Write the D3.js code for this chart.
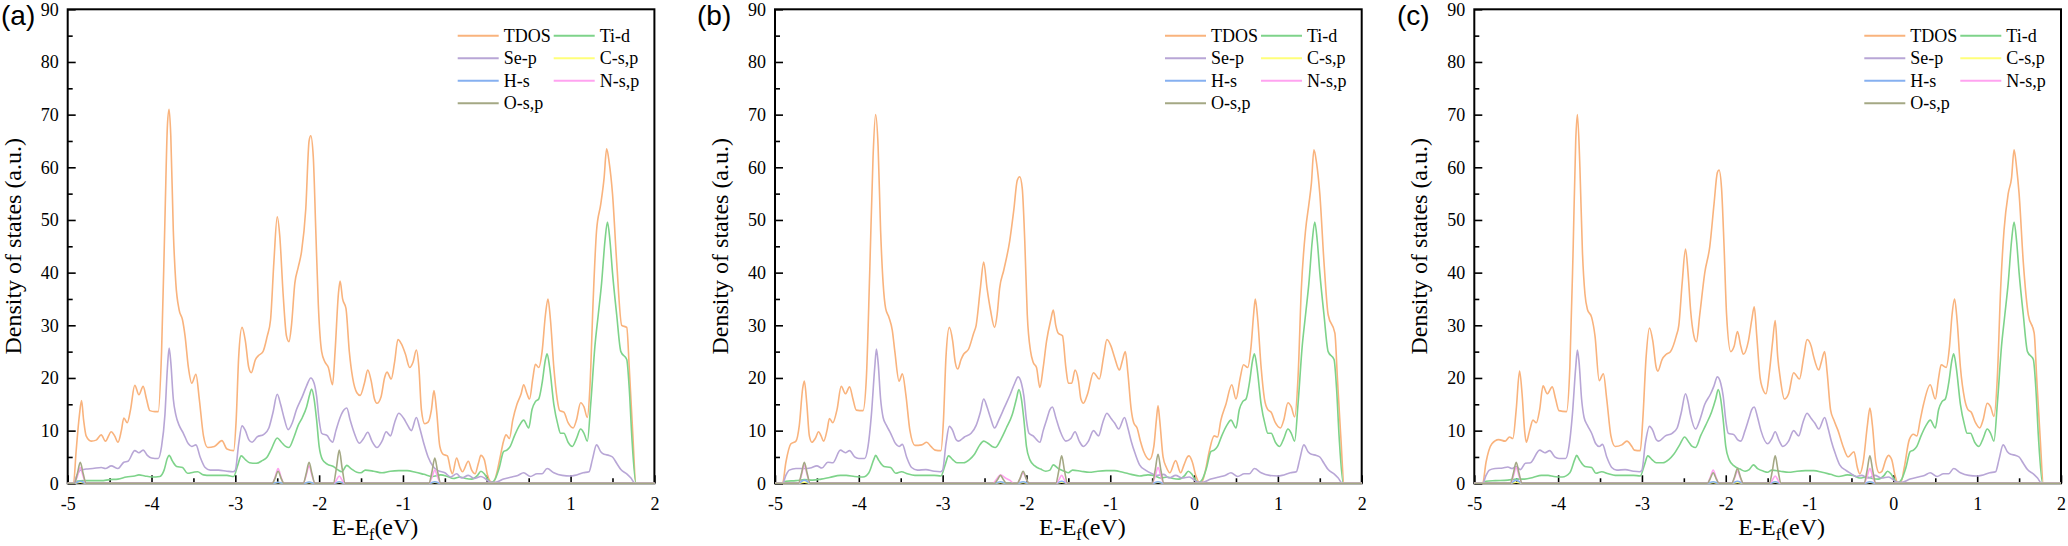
<!DOCTYPE html>
<html><head><meta charset="utf-8">
<script src="https://cdn.jsdelivr.net/npm/d3@7/dist/d3.min.js"></script>
<style>html,body{margin:0;padding:0;background:#fff;} svg{display:block;}</style>
</head><body><svg id="c" width="2068" height="546"></svg>
<script>
const panelLabels = ["(a)", "(b)", "(c)"];
const seriesNames = ["TDOS", "Ti-d", "Se-p", "C-s,p", "H-s", "N-s,p", "O-s,p"];
const seriesColors = ["#F9B37D", "#7ED38A", "#B8A6D6", "#FFFF7A", "#86B0F0", "#FFA3F0", "#A4A884"];
const xTicks = [-5, -4, -3, -2, -1, 0, 1, 2];
const xMinorTicks = [-4.5, -3.5, -2.5, -1.5, -0.5, 0.5, 1.5];
const yTicks = [0, 10, 20, 30, 40, 50, 60, 70, 80, 90];
const yMinorTicks = [5, 15, 25, 35, 45, 55, 65, 75, 85];
const xTitleMain = "E-E", xTitleSub = "f", xTitleEnd = "(eV)";
const yTitle = "Density of states (a.u.)";

// ---------- panel (a) ----------
const tdosA = [[-5,0],[-4.93,0],[-4.9,6],[-4.86,13],[-4.835,15.7],[-4.81,12],[-4.78,9],[-4.72,8],[-4.66,8.2],[-4.6,9.2],[-4.55,8],[-4.48,9.8],[-4.44,9],[-4.4,7.8],[-4.36,10],[-4.33,12.4],[-4.29,11.5],[-4.25,14],[-4.2,18.6],[-4.15,16.8],[-4.1,18.4],[-4.06,16],[-4.02,13.8],[-3.96,13.6],[-3.92,13.6],[-3.88,25],[-3.84,50],[-3.81,68],[-3.79,71],[-3.77,66],[-3.74,48],[-3.71,38],[-3.67,32.9],[-3.63,31],[-3.6,28],[-3.56,22],[-3.52,19],[-3.47,20.7],[-3.43,16],[-3.38,9],[-3.33,6.8],[-3.25,7],[-3.16,8.1],[-3.1,6.5],[-3.02,6.2],[-2.99,12],[-2.96,24],[-2.92,29.6],[-2.88,27],[-2.84,22],[-2.81,21],[-2.76,23.5],[-2.72,24.3],[-2.67,25],[-2.62,27.9],[-2.58,31],[-2.54,42],[-2.5,50.6],[-2.47,47],[-2.43,36],[-2.39,28],[-2.36,26.9],[-2.33,30],[-2.29,38],[-2.25,41],[-2.21,44],[-2.16,52],[-2.12,65],[-2.1,66],[-2.07,62],[-2.04,48],[-2.01,34],[-1.97,25],[-1.93,23],[-1.89,22],[-1.84,18.7],[-1.81,25],[-1.77,36],[-1.75,38.4],[-1.72,35],[-1.68,33.2],[-1.64,25],[-1.6,20],[-1.55,17.2],[-1.51,16.7],[-1.46,19],[-1.42,21.5],[-1.38,19.5],[-1.34,16],[-1.31,15.2],[-1.26,16.5],[-1.22,20],[-1.19,21.1],[-1.14,19.8],[-1.1,23],[-1.06,27.3],[-1.02,26.5],[-0.97,24.5],[-0.92,22],[-0.88,23],[-0.84,25.3],[-0.81,22],[-0.78,14],[-0.74,11.3],[-0.7,11.6],[-0.66,14],[-0.63,17.6],[-0.6,14],[-0.56,7],[-0.52,5.5],[-0.47,5.2],[-0.43,2.5],[-0.41,1.8],[-0.36,4.8],[-0.32,3],[-0.29,2.2],[-0.22,4.2],[-0.18,2.5],[-0.14,1.8],[-0.1,3.8],[-0.07,5.3],[-0.03,4.5],[0.01,1.5],[0.05,0.3],[0.08,0.2],[0.12,2],[0.16,5],[0.2,8],[0.23,9.2],[0.27,8.5],[0.31,12],[0.36,15],[0.41,17],[0.44,18.7],[0.48,17],[0.51,16],[0.55,20],[0.58,22.6],[0.62,22],[0.66,25],[0.7,32],[0.73,35],[0.76,31],[0.8,22],[0.84,16],[0.87,13.8],[0.92,13.5],[0.97,11.5],[1.03,10.5],[1.07,12],[1.12,15.3],[1.16,14.5],[1.2,12.5],[1.23,18],[1.27,35],[1.31,48],[1.36,53],[1.4,58],[1.43,63.5],[1.46,61],[1.5,55],[1.55,42],[1.61,30],[1.67,29.6],[1.7,22],[1.74,10],[1.78,0],[2,0]];
const tidCB = [[0.01,0.8],[0.05,0.1],[0.1,0.8],[0.15,3],[0.2,6],[0.24,6.3],[0.28,7],[0.33,9],[0.39,11],[0.44,12],[0.5,10.5],[0.54,14],[0.58,15.5],[0.62,16],[0.66,19],[0.7,23.5],[0.72,24.6],[0.75,22],[0.8,15],[0.85,11],[0.88,9.5],[0.92,9.5],[0.97,7.8],[1.02,7],[1.07,8.5],[1.12,10.3],[1.16,9.5],[1.2,8],[1.24,15],[1.29,26],[1.33,32],[1.37,38],[1.41,46],[1.44,49.6],[1.47,46],[1.5,40],[1.55,32],[1.6,25],[1.67,23.5],[1.7,18],[1.73,9],[1.78,0],[2,0]];
const sepCB = [[0.03,0.3],[0.1,0.2],[0.2,0.8],[0.3,1.2],[0.37,1.5],[0.44,2],[0.52,1.3],[0.6,1.8],[0.66,1.8],[0.72,2.8],[0.8,2],[0.9,1.5],[1.0,1.4],[1.05,1.5],[1.15,2],[1.22,2.2],[1.26,4.5],[1.31,7.3],[1.36,6],[1.4,5.5],[1.46,5.3],[1.5,5],[1.55,3.8],[1.6,2.6],[1.67,1.8],[1.72,1],[1.77,0],[2,0]];
const tidA = [[-5,0],[-4.93,0],[-4.9,0.4],[-4.8,0.5],[-4.6,0.5],[-4.5,0.7],[-4.4,0.8],[-4.3,1.2],[-4.2,1.4],[-4.15,1.6],[-4.08,1.4],[-4.0,1.2],[-3.9,1.3],[-3.85,2.5],[-3.81,4.8],[-3.79,5.3],[-3.75,4.2],[-3.7,3.2],[-3.63,3],[-3.57,1.9],[-3.5,2.1],[-3.45,2.2],[-3.38,1.6],[-3.3,1.5],[-3.1,1.5],[-3.02,1.3],[-2.97,3.5],[-2.93,5.2],[-2.88,4.5],[-2.83,3.9],[-2.75,3.8],[-2.68,4.3],[-2.62,5],[-2.57,6.5],[-2.5,8.6],[-2.45,7.8],[-2.4,7],[-2.36,6.8],[-2.3,8.8],[-2.25,11],[-2.2,12.5],[-2.15,14.5],[-2.11,17],[-2.09,17.9],[-2.06,16],[-2.03,12],[-2.0,7],[-1.96,4.5],[-1.9,3.6],[-1.83,3.2],[-1.78,2.6],[-1.73,2.2],[-1.67,3.4],[-1.62,2.8],[-1.55,2.1],[-1.5,2],[-1.45,2.5],[-1.35,2.3],[-1.25,2],[-1.15,2.3],[-1.05,2.4],[-0.95,2.4],[-0.85,2.1],[-0.75,1.7],[-0.65,1.3],[-0.55,1.6],[-0.47,1.3],[-0.4,0.9],[-0.32,1.2],[-0.25,0.9],[-0.18,0.8],[-0.11,1.5],[-0.07,2.3],[-0.03,1.8]].concat(tidCB);
const sepA = [[-5,0],[-4.93,0],[-4.89,1.5],[-4.85,2.5],[-4.78,2.7],[-4.7,2.8],[-4.6,3],[-4.55,2.8],[-4.48,3.3],[-4.4,2.8],[-4.33,4],[-4.28,4.2],[-4.2,6.2],[-4.15,5.8],[-4.1,6.3],[-4.05,5.3],[-4.0,4.8],[-3.92,4.7],[-3.88,7],[-3.84,13],[-3.81,22],[-3.79,25.7],[-3.77,23],[-3.74,16],[-3.71,13],[-3.67,11],[-3.62,9.5],[-3.56,7.5],[-3.52,7],[-3.47,7.3],[-3.42,5],[-3.36,3],[-3.3,2.5],[-3.2,2.5],[-3.1,2.3],[-3.03,2.2],[-3.0,2.5],[-2.96,7.5],[-2.92,10.9],[-2.88,10],[-2.84,8.3],[-2.8,7.8],[-2.74,8.8],[-2.66,9.3],[-2.6,10.5],[-2.55,13.5],[-2.5,16.9],[-2.46,15],[-2.42,12.5],[-2.37,10.2],[-2.32,11.5],[-2.27,14],[-2.2,16.5],[-2.15,18.5],[-2.1,20],[-2.06,19],[-2.03,16.5],[-2.0,12],[-1.97,9.5],[-1.9,9],[-1.87,8.2],[-1.84,7.8],[-1.8,10],[-1.75,12.5],[-1.7,14],[-1.67,14.3],[-1.63,12],[-1.58,9.5],[-1.52,7.6],[-1.47,8.5],[-1.42,9.7],[-1.37,8],[-1.31,6.8],[-1.25,8],[-1.2,9.8],[-1.15,9],[-1.1,11.5],[-1.05,13.3],[-0.99,12.3],[-0.95,11.2],[-0.9,10],[-0.84,12.5],[-0.8,10.5],[-0.75,7.5],[-0.7,5],[-0.64,3.2],[-0.58,2.4],[-0.5,2],[-0.43,1.2],[-0.36,1.8],[-0.3,1],[-0.22,1.5],[-0.15,0.9],[-0.07,1.3],[-0.02,0.9]].concat(sepCB);
const csA = [[-5,0],[-4.92,0],[-4.85,0.2],[-4.78,0],[-2.56,0],[-2.49,0.15],[-2.42,0],[-2.19,0],[-2.12,0.15],[-2.05,0],[-1.83,0],[-1.76,0.2],[-1.69,0],[-0.69,0],[-0.62,0.2],[-0.55,0],[2,0]];
const hsA = [[-5,0],[-4.92,0],[-4.85,0.4],[-4.78,0],[-2.56,0],[-2.49,0.2],[-2.42,0],[-2.19,0],[-2.12,0.25],[-2.05,0],[-1.83,0],[-1.76,0.3],[-1.69,0],[-0.69,0],[-0.62,0.3],[-0.55,0],[2,0]];
const nsA = [[-5,0],[-4.92,0],[-4.885,1.3],[-4.85,3],[-4.815,1.3],[-4.78,0],[-2.56,0],[-2.525,1.2],[-2.49,2.8],[-2.455,1.2],[-2.42,0],[-2.19,0],[-2.155,1.5],[-2.12,3.3],[-2.085,1.5],[-2.05,0],[-1.83,0],[-1.795,0.6],[-1.76,1.4],[-1.725,0.6],[-1.69,0],[-0.69,0],[-0.655,1.1],[-0.62,2.5],[-0.585,1.1],[-0.55,0],[2,0]];
const osA = [[-5,0],[-4.92,0],[-4.885,1.8],[-4.85,4],[-4.815,1.8],[-4.78,0],[-2.56,0],[-2.525,1],[-2.49,2.3],[-2.455,1],[-2.42,0],[-2.19,0],[-2.155,1.8],[-2.12,4],[-2.085,1.8],[-2.05,0],[-1.83,0],[-1.795,2.8],[-1.76,6.3],[-1.725,2.8],[-1.69,0],[-0.69,0],[-0.655,2.1],[-0.62,4.8],[-0.585,2.1],[-0.55,0],[2,0]];

// ---------- panel (b) ----------
const tdosB = [[-5,0],[-4.91,0],[-4.87,4],[-4.81,7.5],[-4.75,8],[-4.71,11],[-4.67,18],[-4.65,19.4],[-4.62,15],[-4.59,9],[-4.56,7.8],[-4.52,8.5],[-4.48,9.8],[-4.45,9],[-4.42,8],[-4.38,10],[-4.35,12.3],[-4.31,11.5],[-4.26,14],[-4.21,18.4],[-4.16,17],[-4.11,18.3],[-4.07,16],[-4.03,13.9],[-3.95,13.8],[-3.91,20],[-3.87,40],[-3.83,62],[-3.8,70],[-3.77,64],[-3.74,48],[-3.71,38],[-3.68,33.2],[-3.64,31.5],[-3.6,29],[-3.57,25],[-3.52,19.4],[-3.48,20.8],[-3.44,17],[-3.39,10],[-3.33,7.2],[-3.25,7.3],[-3.19,7.8],[-3.14,7],[-3.09,6.3],[-3.02,6.2],[-2.99,12],[-2.96,24],[-2.92,29.6],[-2.88,27],[-2.85,23],[-2.82,21.7],[-2.78,23.5],[-2.75,24.5],[-2.69,25.5],[-2.63,28.5],[-2.6,30],[-2.55,37],[-2.51,42],[-2.47,37],[-2.43,33],[-2.38,29.6],[-2.35,32],[-2.32,37],[-2.27,40.5],[-2.2,46],[-2.15,52],[-2.11,57.5],[-2.08,58.2],[-2.05,56],[-2.02,46],[-1.99,32],[-1.95,25],[-1.92,23],[-1.88,22],[-1.84,18.2],[-1.8,22],[-1.76,27],[-1.71,31],[-1.68,32.9],[-1.65,30],[-1.62,28.5],[-1.57,28],[-1.53,22],[-1.5,19],[-1.46,19],[-1.42,21.5],[-1.38,19.5],[-1.35,16],[-1.32,15.2],[-1.27,17],[-1.2,21],[-1.13,19.8],[-1.08,24],[-1.04,27.3],[-0.99,26],[-0.95,24],[-0.89,21.5],[-0.86,23],[-0.82,25],[-0.79,21],[-0.75,14],[-0.72,11.5],[-0.68,10.5],[-0.64,8],[-0.6,6],[-0.53,4.5],[-0.48,7],[-0.45,12],[-0.43,14.7],[-0.41,12],[-0.37,5],[-0.33,3],[-0.29,2],[-0.22,4.3],[-0.16,2],[-0.12,3.5],[-0.08,5],[-0.06,5.2],[-0.02,4],[0.02,1.5],[0.06,0.2],[0.09,0.2],[0.13,2],[0.18,6],[0.24,9],[0.28,8.8],[0.32,12],[0.38,15],[0.45,18.7],[0.5,16],[0.55,20],[0.59,22.5],[0.64,22],[0.68,26],[0.71,32],[0.73,35],[0.76,31],[0.8,22],[0.84,16],[0.88,14],[0.92,13.5],[0.97,11.5],[1.03,10.5],[1.07,12],[1.12,15.3],[1.16,14.5],[1.2,12.6],[1.24,20],[1.28,37],[1.33,48],[1.37,53],[1.4,57],[1.43,63.3],[1.46,61],[1.5,55],[1.55,42],[1.6,32],[1.68,28.5],[1.71,20],[1.75,9],[1.79,0],[2,0]];
const tidB = [[-5,0],[-4.91,0],[-4.87,0.4],[-4.75,0.5],[-4.65,0.7],[-4.55,0.6],[-4.45,0.8],[-4.35,1.1],[-4.22,1.5],[-4.15,1.5],[-4.05,1.3],[-3.95,1.2],[-3.88,2],[-3.82,4.6],[-3.8,5.3],[-3.76,4.3],[-3.7,3.2],[-3.62,3],[-3.56,1.9],[-3.49,2.2],[-3.42,1.8],[-3.33,1.5],[-3.1,1.5],[-3.02,1.4],[-2.97,3.5],[-2.93,5.2],[-2.88,4.5],[-2.83,3.9],[-2.75,3.9],[-2.68,4.5],[-2.62,5.5],[-2.56,7.2],[-2.51,8],[-2.46,7.6],[-2.41,7],[-2.37,6.8],[-2.3,8.5],[-2.24,10.5],[-2.17,13],[-2.12,16],[-2.09,17.8],[-2.06,16],[-2.03,12],[-2.0,7],[-1.96,4.5],[-1.9,3.3],[-1.83,2.7],[-1.77,2.3],[-1.72,2.5],[-1.68,3.5],[-1.62,2.8],[-1.55,2.3],[-1.5,2],[-1.45,2.5],[-1.35,2.3],[-1.25,2.1],[-1.15,2.3],[-1.05,2.4],[-0.95,2.4],[-0.85,2.1],[-0.75,1.7],[-0.65,1.4],[-0.55,1.6],[-0.48,1.5],[-0.4,1],[-0.32,1.2],[-0.25,0.9],[-0.18,0.8],[-0.11,1.5],[-0.07,2.3],[-0.03,1.8]].concat(tidCB);
const sepB = [[-5,0],[-4.91,0],[-4.87,1.5],[-4.83,2.5],[-4.75,2.8],[-4.65,2.8],[-4.58,2.9],[-4.5,3.3],[-4.44,2.9],[-4.37,4],[-4.31,3.9],[-4.22,6.3],[-4.16,5.8],[-4.11,6.2],[-4.05,5],[-4.0,4.7],[-3.93,4.7],[-3.89,7],[-3.85,13],[-3.81,22],[-3.79,25.5],[-3.77,23],[-3.74,16],[-3.71,12.5],[-3.67,11],[-3.62,9.5],[-3.56,7.5],[-3.52,7],[-3.48,7.4],[-3.43,5],[-3.37,3],[-3.3,2.5],[-3.2,2.6],[-3.1,2.3],[-3.03,2.2],[-3.0,2.5],[-2.96,7.5],[-2.92,10.8],[-2.88,10],[-2.84,8.3],[-2.81,8],[-2.74,8.8],[-2.66,9.5],[-2.6,11],[-2.55,13.5],[-2.51,16],[-2.47,14.5],[-2.43,12.5],[-2.38,10.5],[-2.33,12],[-2.26,14.5],[-2.19,17],[-2.14,19],[-2.1,20.2],[-2.06,19],[-2.03,16.5],[-2.0,12],[-1.97,9.5],[-1.92,9],[-1.88,8.3],[-1.84,7.8],[-1.8,10],[-1.76,12],[-1.72,14],[-1.69,14.5],[-1.65,12.5],[-1.6,10],[-1.53,8],[-1.47,8.5],[-1.42,9.8],[-1.37,8],[-1.32,7],[-1.26,8],[-1.2,10],[-1.14,9],[-1.09,11.5],[-1.04,13.3],[-0.99,12.3],[-0.95,11.5],[-0.9,10.3],[-0.83,12.5],[-0.79,10.5],[-0.75,8],[-0.7,5.5],[-0.65,3.5],[-0.58,2.5],[-0.5,1.8],[-0.45,1.5],[-0.36,1.7],[-0.3,1],[-0.22,1.5],[-0.14,1],[-0.06,1.2],[-0.02,0.9]].concat(sepCB);
const csB = [[-5,0],[-4.72,0],[-4.65,0.2],[-4.58,0],[-2.38,0],[-2.31,0.15],[-2.24,0],[-2.11,0],[-2.04,0.15],[-1.97,0],[-1.65,0],[-1.58,0.2],[-1.51,0],[-0.5,0],[-0.43,0.2],[-0.36,0],[2,0]];
const hsB = [[-5,0],[-4.72,0],[-4.65,0.6],[-4.58,0],[-2.38,0],[-2.31,0.3],[-2.24,0],[-2.11,0],[-2.04,0.3],[-1.97,0],[-1.65,0],[-1.58,0.4],[-1.51,0],[-0.5,0],[-0.43,0.3],[-0.36,0],[2,0]];
const nsB = [[-5,0],[-4.72,0],[-4.685,1.5],[-4.65,3.5],[-4.615,1.5],[-4.58,0],[-2.4,0],[-2.35,0.9],[-2.31,1.6],[-2.25,1],[-2.2,0.6],[-2.15,0],[-2.11,0],[-2.075,0.9],[-2.04,2],[-2.005,0.9],[-1.97,0],[-1.65,0],[-1.615,0.6],[-1.58,1.5],[-1.545,0.6],[-1.51,0],[-0.5,0],[-0.465,1.3],[-0.43,3],[-0.395,1.3],[-0.36,0],[2,0]];
const osB = [[-5,0],[-4.72,0],[-4.685,1.8],[-4.65,4],[-4.615,1.8],[-4.58,0],[-2.38,0],[-2.345,0.7],[-2.31,1.5],[-2.275,0.7],[-2.24,0],[-2.11,0],[-2.075,1],[-2.04,2.3],[-2.005,1],[-1.97,0],[-1.65,0],[-1.615,2.3],[-1.58,5.2],[-1.545,2.3],[-1.51,0],[-0.5,0],[-0.465,2.4],[-0.43,5.5],[-0.395,2.4],[-0.36,0],[2,0]];

// ---------- panel (c) ----------
const tdosC = [[-5,0],[-4.9,0],[-4.86,4],[-4.79,7.5],[-4.71,8.3],[-4.63,8],[-4.58,8.8],[-4.54,8.5],[-4.5,14],[-4.46,21.3],[-4.43,17],[-4.4,10],[-4.38,7.8],[-4.34,10],[-4.3,12],[-4.26,11.5],[-4.22,14],[-4.18,18.5],[-4.13,17],[-4.07,18.3],[-4.03,16],[-3.99,13.8],[-3.9,13.6],[-3.86,22],[-3.82,45],[-3.79,65],[-3.77,70],[-3.74,60],[-3.71,44],[-3.68,36],[-3.65,33],[-3.6,31.5],[-3.56,28],[-3.51,19.5],[-3.46,20.8],[-3.42,16],[-3.37,9],[-3.32,7],[-3.24,7.3],[-3.18,8],[-3.12,7],[-3.09,6.3],[-3.02,6.2],[-2.99,12],[-2.95,24],[-2.91,29.5],[-2.87,27],[-2.83,22],[-2.81,21.3],[-2.76,23.5],[-2.71,24.5],[-2.66,25],[-2.59,28],[-2.56,30],[-2.52,38],[-2.48,44.5],[-2.45,40],[-2.42,33],[-2.38,28],[-2.35,26.9],[-2.31,32],[-2.25,40],[-2.19,45],[-2.14,53],[-2.1,59],[-2.08,59.5],[-2.05,56],[-2.02,45],[-1.99,32],[-1.94,25],[-1.9,26],[-1.86,28.8],[-1.82,26],[-1.79,24.5],[-1.73,27],[-1.69,31],[-1.66,33.5],[-1.63,28],[-1.59,20],[-1.56,18],[-1.52,17],[-1.48,21],[-1.44,27],[-1.41,30.9],[-1.38,24],[-1.35,20],[-1.3,16],[-1.25,17],[-1.19,21],[-1.12,19.8],[-1.07,24],[-1.03,27.3],[-0.98,26],[-0.95,24],[-0.89,21.5],[-0.86,23],[-0.82,25],[-0.79,21],[-0.75,14],[-0.71,12],[-0.66,10],[-0.6,7],[-0.54,5],[-0.47,6],[-0.43,3],[-0.4,1.8],[-0.36,4],[-0.31,11],[-0.28,14.3],[-0.25,11],[-0.21,4],[-0.17,2],[-0.14,2.2],[-0.09,4.5],[-0.06,5.3],[-0.02,4.5],[0.02,1.5],[0.05,0.2],[0.09,0.2],[0.13,3],[0.19,8.3],[0.24,9.3],[0.28,9],[0.32,12],[0.36,15],[0.44,18.7],[0.5,16],[0.54,20],[0.57,22.5],[0.63,22],[0.67,26],[0.7,32],[0.73,35],[0.76,31],[0.8,22],[0.85,16],[0.89,14],[0.93,13.5],[0.98,11.5],[1.03,10.5],[1.07,12],[1.12,15.2],[1.16,14.5],[1.2,12.7],[1.24,20],[1.28,37],[1.32,48],[1.37,55],[1.41,58],[1.44,63.3],[1.47,60],[1.5,55],[1.55,42],[1.61,32],[1.68,28.5],[1.71,20],[1.75,9],[1.79,0],[2,0]];
const tidC = [[-5,0],[-4.9,0],[-4.86,0.4],[-4.75,0.5],[-4.6,0.6],[-4.5,0.8],[-4.4,0.8],[-4.3,1.1],[-4.2,1.5],[-4.12,1.5],[-4.05,1.3],[-3.95,1.2],[-3.86,2],[-3.8,4.6],[-3.78,5.3],[-3.74,4.3],[-3.68,3.2],[-3.6,3],[-3.55,1.9],[-3.48,2.2],[-3.4,1.8],[-3.32,1.5],[-3.1,1.5],[-3.02,1.4],[-2.97,3.5],[-2.93,5.2],[-2.88,4.5],[-2.83,3.9],[-2.75,3.9],[-2.68,4.5],[-2.62,5.5],[-2.55,7.3],[-2.49,8.8],[-2.44,7.8],[-2.4,7],[-2.36,6.8],[-2.3,9],[-2.24,11],[-2.17,13.5],[-2.12,16],[-2.09,17.8],[-2.06,16],[-2.03,12],[-2.0,7],[-1.96,4.5],[-1.9,3.3],[-1.83,2.7],[-1.77,2.3],[-1.72,2.6],[-1.67,3.5],[-1.62,2.8],[-1.55,2.3],[-1.5,2.1],[-1.45,2.5],[-1.35,2.3],[-1.25,2.1],[-1.15,2.3],[-1.05,2.4],[-0.95,2.4],[-0.85,2.1],[-0.75,1.7],[-0.65,1.3],[-0.55,1.6],[-0.48,1.5],[-0.4,1],[-0.32,1.2],[-0.25,0.9],[-0.18,0.8],[-0.11,1.5],[-0.07,2.3],[-0.03,1.8]].concat(tidCB);
const sepC = [[-5,0],[-4.9,0],[-4.86,1.5],[-4.82,2.5],[-4.75,2.8],[-4.66,2.9],[-4.6,3.1],[-4.55,2.8],[-4.5,3.2],[-4.45,2.6],[-4.39,3.8],[-4.33,3.9],[-4.22,6.3],[-4.16,5.8],[-4.1,6.2],[-4.04,5],[-3.99,4.7],[-3.91,4.7],[-3.87,7],[-3.83,13],[-3.79,22],[-3.77,25.3],[-3.75,23],[-3.72,16],[-3.69,12.5],[-3.65,11],[-3.6,9.5],[-3.55,7.5],[-3.51,7],[-3.47,7.4],[-3.42,5],[-3.36,3],[-3.3,2.5],[-3.2,2.6],[-3.1,2.3],[-3.03,2.2],[-3.0,2.5],[-2.96,7.5],[-2.91,10.8],[-2.87,10],[-2.83,8.3],[-2.8,8],[-2.72,9],[-2.64,9.5],[-2.58,10.5],[-2.53,13.5],[-2.48,17],[-2.45,15.5],[-2.42,13],[-2.36,10.3],[-2.31,12],[-2.25,15],[-2.18,17],[-2.14,18.5],[-2.1,20.2],[-2.06,19],[-2.03,16.5],[-2.0,12],[-1.97,9.5],[-1.9,9.2],[-1.86,8.3],[-1.82,8],[-1.77,10],[-1.72,12.5],[-1.69,14],[-1.66,14.5],[-1.62,12.5],[-1.58,10],[-1.5,7.5],[-1.45,8.5],[-1.41,9.8],[-1.36,8],[-1.32,7],[-1.25,8],[-1.19,10],[-1.13,9],[-1.08,11.5],[-1.03,13.3],[-0.98,12.3],[-0.94,11.5],[-0.89,10.3],[-0.82,12.5],[-0.78,10.5],[-0.74,8],[-0.69,5.5],[-0.64,3.5],[-0.57,2.5],[-0.5,1.8],[-0.45,1.3],[-0.38,1.5],[-0.3,1],[-0.22,1.5],[-0.14,1],[-0.06,1.2],[-0.02,0.9]].concat(sepCB);
const csC = [[-5,0],[-4.57,0],[-4.5,0.2],[-4.43,0],[-2.22,0],[-2.15,0.15],[-2.08,0],[-1.93,0],[-1.86,0.15],[-1.79,0],[-1.48,0],[-1.41,0.2],[-1.34,0],[-0.35,0],[-0.28,0.2],[-0.21,0],[2,0]];
const hsC = [[-5,0],[-4.57,0],[-4.5,0.6],[-4.43,0],[-2.22,0],[-2.15,0.3],[-2.08,0],[-1.93,0],[-1.86,0.4],[-1.79,0],[-1.48,0],[-1.41,0.3],[-1.34,0],[-0.35,0],[-0.28,0.3],[-0.21,0],[2,0]];
const nsC = [[-5,0],[-4.57,0],[-4.535,1.3],[-4.5,3],[-4.465,1.3],[-4.43,0],[-2.22,0],[-2.185,1.1],[-2.15,2.5],[-2.115,1.1],[-2.08,0],[-1.93,0],[-1.895,1],[-1.86,2.3],[-1.825,1],[-1.79,0],[-1.48,0],[-1.445,0.6],[-1.41,1.4],[-1.375,0.6],[-1.34,0],[-0.35,0],[-0.315,1.2],[-0.28,2.8],[-0.245,1.2],[-0.21,0],[2,0]];
const osC = [[-5,0],[-4.57,0],[-4.535,1.8],[-4.5,4],[-4.465,1.8],[-4.43,0],[-2.22,0],[-2.185,0.9],[-2.15,2],[-2.115,0.9],[-2.08,0],[-1.93,0],[-1.895,1.2],[-1.86,2.8],[-1.825,1.2],[-1.79,0],[-1.48,0],[-1.445,2.3],[-1.41,5.2],[-1.375,2.3],[-1.34,0],[-0.35,0],[-0.315,2.3],[-0.28,5.2],[-0.245,2.3],[-0.21,0],[2,0]];

const panelSeries = [
  [tdosA, tidA, sepA, csA, hsA, nsA, osA],
  [tdosB, tidB, sepB, csB, hsB, nsB, osB],
  [tdosC, tidC, sepC, csC, hsC, nsC, osC]
];

// ---------- layout ----------
const plotLeft = [67.7, 775, 1474.3];
const plotW = 586.7, plotTop = 9.3, plotBottom = 483.3;
const labelX = [1, 697, 1397];
const serif = "'Liberation Serif','Times New Roman',serif";
const sans = "'Liberation Sans',Arial,sans-serif";

const svg = d3.select("#c");
svg.append("rect").attr("width", 2068).attr("height", 546).attr("fill", "#fff");

panelLabels.forEach((lab, pi) => {
  const L = plotLeft[pi];
  const x = d3.scaleLinear().domain([-5, 2]).range([L, L + plotW]);
  const y = d3.scaleLinear().domain([0, 90]).range([plotBottom, plotTop]);
  const g = svg.append("g");

  g.append("rect").attr("x", L).attr("y", plotTop).attr("width", plotW).attr("height", plotBottom - plotTop)
    .attr("fill", "none").attr("stroke", "#000").attr("stroke-width", 2);

  const ax = g.append("g").attr("transform", `translate(0,${plotBottom})`)
    .call(d3.axisBottom(x).tickValues(xTicks).tickSize(-8).tickPadding(14).tickFormat(d => String(d)));
  const axm = g.append("g").attr("transform", `translate(0,${plotBottom})`)
    .call(d3.axisBottom(x).tickValues(xMinorTicks).tickSize(-5).tickFormat(""));
  const ay = g.append("g").attr("transform", `translate(${L},0)`)
    .call(d3.axisLeft(y).tickValues(yTicks).tickSize(-8).tickPadding(9).tickFormat(d => String(d)));
  const aym = g.append("g").attr("transform", `translate(${L},0)`)
    .call(d3.axisLeft(y).tickValues(yMinorTicks).tickSize(-5).tickFormat(""));
  [ax, axm, ay, aym].forEach(a => {
    a.select(".domain").remove();
    a.selectAll("line").attr("stroke", "#000").attr("stroke-width", 1.6);
    a.selectAll("text").attr("font-family", serif).attr("font-size", 18).attr("fill", "#000");
  });

  const line = d3.line().x(d => x(d[0])).y(d => y(d[1])).curve(d3.curveMonotoneX);
  panelSeries[pi].forEach((s, si) => {
    g.append("path").datum(s).attr("d", line).attr("fill", "none")
      .attr("stroke", seriesColors[si]).attr("stroke-width", 1.6).attr("stroke-linejoin", "round");
  });

  const lg = g.append("g");
  seriesNames.forEach((nm, i) => {
    const col = i % 2, row = Math.floor(i / 2);
    const lx = L + 390 + col * 96;
    const ly = plotTop + 26.5 + row * 22.5;
    lg.append("line").attr("x1", lx).attr("x2", lx + 41).attr("y1", ly).attr("y2", ly)
      .attr("stroke", seriesColors[i]).attr("stroke-width", 2);
    lg.append("text").attr("x", lx + 46).attr("y", ly + 6).text(nm)
      .attr("font-family", serif).attr("font-size", 18).attr("fill", "#000");
  });

  g.append("text").attr("transform", `translate(${L - 47},${(plotTop + plotBottom) / 2}) rotate(-90)`)
    .attr("text-anchor", "middle").attr("font-family", serif).attr("font-size", 24).attr("fill", "#000").text(yTitle);
  const xt = g.append("text").attr("x", L + plotW / 2 + 14).attr("y", 535).attr("text-anchor", "middle")
    .attr("font-family", serif).attr("font-size", 24).attr("fill", "#000");
  xt.append("tspan").text(xTitleMain);
  xt.append("tspan").attr("dy", 5).attr("font-size", 16).text(xTitleSub);
  xt.append("tspan").attr("dy", -5).text(xTitleEnd);

  g.append("text").attr("x", labelX[pi]).attr("y", 25).attr("font-family", sans).attr("font-size", 28)
    .attr("fill", "#000").text(lab);
});
</script></body></html>
